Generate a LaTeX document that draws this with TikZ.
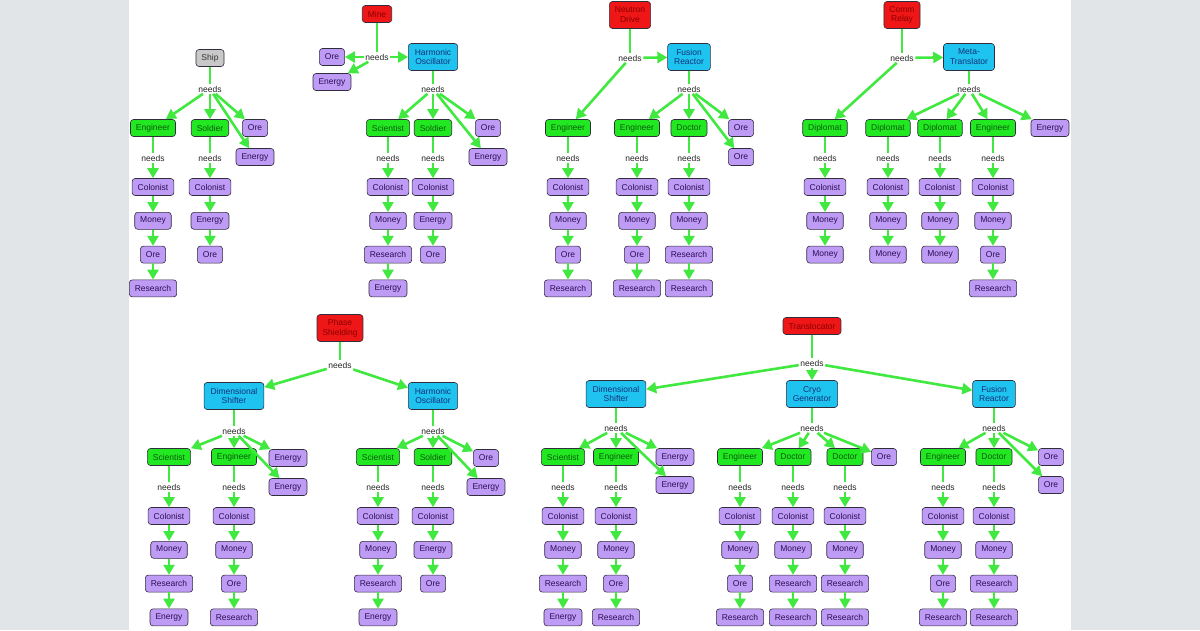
\documentclass[tikz,border=0pt]{standalone}
\usepackage{fontspec}
\setmainfont{Liberation Sans}
\usetikzlibrary{arrows.meta}
\definecolor{margin}{RGB}{225,229,232}
\definecolor{edge}{RGB}{50,45,60}
\definecolor{wire}{RGB}{64,232,64}
\definecolor{top}{RGB}{238,22,22}
\definecolor{toptext}{RGB}{140,0,0}
\definecolor{tool}{RGB}{30,195,240}
\definecolor{tooltext}{RGB}{20,50,120}
\definecolor{crew}{RGB}{34,232,34}
\definecolor{crewtext}{RGB}{10,90,10}
\definecolor{res}{RGB}{190,155,245}
\definecolor{restext}{RGB}{45,15,85}
\definecolor{shipgray}{RGB}{200,200,200}

\begin{document}
\begin{tikzpicture}[
    x=1pt, y=-1pt,
    box/.style={
        draw=edge,
        line width=0.6pt,
        rounded corners=3pt,
        font=\fontsize{8.5}{9.8}\selectfont,
        minimum height=17pt,
        inner xsep=5.5pt,
        inner ysep=2pt,
        align=center
    },
    tall/.style={minimum height=27pt},
    top_style/.style={box, fill=top, text=toptext},
    tool_style/.style={box, tall, fill=tool, text=tooltext, inner xsep=6.5pt},
    crew_style/.style={box, fill=crew, text=crewtext},
    res_style/.style={box, fill=res, text=restext},
    ship_style/.style={box, fill=shipgray, text=black!80},
    lbl_style/.style={font=\fontsize{8.5}{9.8}\selectfont, text=black!85, inner sep=1.5pt},
    link/.style={draw=wire, line width=2.6pt},
    arr/.style={link, -{Triangle[length=10pt, width=11pt]}}
]

\useasboundingbox (0,0) rectangle (1200,630);
\fill[margin] (0,0) rectangle (1200,630);
\fill[white] (129,0) rectangle (1071,630);

% top row
\node[ship_style] (ship) at (210,58) {Ship};
\node[lbl_style] (ship_n) at (210,89) {needs};
\node[res_style] (ship_ore) at (255,128) {Ore};
\node[res_style] (ship_en) at (255,157) {Energy};

\node[top_style] (mine) at (377,14) {Mine};
\node[lbl_style] (mine_n) at (377,57) {needs};
\node[res_style] (mine_ore) at (332,57) {Ore};
\node[res_style] (mine_en) at (332,82) {Energy};
\node[tool_style] (ho1) at (433,57) {Harmonic\\Oscillator};
\node[lbl_style] (ho1_n) at (433,89) {needs};
\node[res_style] (ho1_ore) at (488,128) {Ore};
\node[res_style] (ho1_en) at (488,157) {Energy};

\node[top_style, tall] (nd) at (630,15) {Neutron\\Drive};
\node[lbl_style] (nd_n) at (630,58) {needs};
\node[tool_style] (fr1) at (689,57) {Fusion\\Reactor};
\node[lbl_style] (fr1_n) at (689,89) {needs};
\node[res_style] (fr1_ore) at (741,128) {Ore};
\node[res_style] (fr1_ore2) at (741,157) {Ore};

\node[top_style, tall] (cr) at (902,15) {Comm\\Relay};
\node[lbl_style] (cr_n) at (902,58) {needs};
\node[tool_style] (mt) at (969,57) {Meta-\\Translator};
\node[lbl_style] (mt_n) at (969,89) {needs};
\node[res_style] (mt_en) at (1050,128) {Energy};

% bottom row
\node[top_style, tall] (ps) at (340,328) {Phase\\Shielding};
\node[lbl_style] (ps_n) at (340,365) {needs};
\node[tool_style] (ds1) at (234,396) {Dimensional\\Shifter};
\node[lbl_style] (ds1_n) at (234,431) {needs};
\node[res_style] (ds1_en) at (288,458) {Energy};
\node[res_style] (ds1_en2) at (288,487) {Energy};
\node[tool_style] (ho2) at (433,396) {Harmonic\\Oscillator};
\node[lbl_style] (ho2_n) at (433,431) {needs};
\node[res_style] (ho2_ore) at (486,458) {Ore};
\node[res_style] (ho2_en) at (486,487) {Energy};

\node[top_style] (tl) at (812,326) {Translocator};
\node[lbl_style] (tl_n) at (812,363) {needs};
\node[tool_style] (ds2) at (616,394) {Dimensional\\Shifter};
\node[lbl_style] (ds2_n) at (616,428) {needs};
\node[res_style] (ds2_en) at (675,457) {Energy};
\node[res_style] (ds2_en2) at (675,485) {Energy};
\node[tool_style] (cg) at (812,394) {Cryo\\Generator};
\node[lbl_style] (cg_n) at (812,428) {needs};
\node[res_style] (cg_ore) at (884,457) {Ore};
\node[tool_style] (fr2) at (994,394) {Fusion\\Reactor};
\node[lbl_style] (fr2_n) at (994,428) {needs};
\node[res_style] (fr2_ore) at (1051,457) {Ore};
\node[res_style] (fr2_ore2) at (1051,485) {Ore};

% crew columns: crew node, needs, then the chain
\foreach \col/\x/\y/\who/\items in {
    ship_a/153/128/Engineer/{Colonist,Money,Ore,Research},
    ship_b/210/128/Soldier/{Colonist,Energy,Ore},
    ho1_a/388/128/Scientist/{Colonist,Money,Research,Energy},
    ho1_b/433/128/Soldier/{Colonist,Energy,Ore},
    nd_a/568/128/Engineer/{Colonist,Money,Ore,Research},
    fr1_a/637/128/Engineer/{Colonist,Money,Ore,Research},
    fr1_b/689/128/Doctor/{Colonist,Money,Research,Research},
    cr_a/825/128/Diplomat/{Colonist,Money,Money},
    mt_a/888/128/Diplomat/{Colonist,Money,Money},
    mt_b/940/128/Diplomat/{Colonist,Money,Money},
    mt_c/993/128/Engineer/{Colonist,Money,Ore,Research},
    ds1_a/169/457/Scientist/{Colonist,Money,Research,Energy},
    ds1_b/234/457/Engineer/{Colonist,Money,Ore,Research},
    ho2_a/378/457/Scientist/{Colonist,Money,Research,Energy},
    ho2_b/433/457/Soldier/{Colonist,Energy,Ore},
    ds2_a/563/457/Scientist/{Colonist,Money,Research,Energy},
    ds2_b/616/457/Engineer/{Colonist,Money,Ore,Research},
    cg_a/740/457/Engineer/{Colonist,Money,Ore,Research},
    cg_b/793/457/Doctor/{Colonist,Money,Research,Research},
    cg_c/845/457/Doctor/{Colonist,Money,Research,Research},
    fr2_a/943/457/Engineer/{Colonist,Money,Ore,Research},
    fr2_b/994/457/Doctor/{Colonist,Money,Research,Research}}{
    \node[crew_style] (\col) at (\x,\y) {\who};
    \node[lbl_style] (\col-0) at (\x,\y+30) {needs};
    \draw[link] (\col) -- (\col-0);
    \foreach \res [count=\i] in \items {
        \pgfmathtruncatemacro\j{\i-1}
        \node[res_style] (\col-\i) at (\x,\y+59+33.8*\i-33.8) {\res};
        \draw[arr] (\col-\j) -- (\col-\i);
    }
}

% connectors
\draw[link] (ship) -- (ship_n);
\foreach \t in {ship_a, ship_b, ship_ore, ship_en} \draw[arr] (ship_n) -- (\t);

\draw[link] (mine) -- (mine_n);
\foreach \t in {mine_ore, mine_en, ho1} \draw[arr] (mine_n) -- (\t);
\draw[link] (ho1) -- (ho1_n);
\foreach \t in {ho1_a, ho1_b, ho1_ore, ho1_en} \draw[arr] (ho1_n) -- (\t);

\draw[link] (nd) -- (nd_n);
\foreach \t in {fr1, nd_a} \draw[arr] (nd_n) -- (\t);
\draw[link] (fr1) -- (fr1_n);
\foreach \t in {fr1_a, fr1_b, fr1_ore, fr1_ore2} \draw[arr] (fr1_n) -- (\t);

\draw[link] (cr) -- (cr_n);
\foreach \t in {mt, cr_a} \draw[arr] (cr_n) -- (\t);
\draw[link] (mt) -- (mt_n);
\foreach \t in {mt_a, mt_b, mt_c, mt_en} \draw[arr] (mt_n) -- (\t);

\draw[link] (ps) -- (ps_n);
\foreach \t in {ds1, ho2} \draw[arr] (ps_n) -- (\t);
\draw[link] (ds1) -- (ds1_n);
\foreach \t in {ds1_a, ds1_b, ds1_en, ds1_en2} \draw[arr] (ds1_n) -- (\t);
\draw[link] (ho2) -- (ho2_n);
\foreach \t in {ho2_a, ho2_b, ho2_ore, ho2_en} \draw[arr] (ho2_n) -- (\t);

\draw[link] (tl) -- (tl_n);
\foreach \t in {ds2, cg, fr2} \draw[arr] (tl_n) -- (\t);
\draw[link] (ds2) -- (ds2_n);
\foreach \t in {ds2_a, ds2_b, ds2_en, ds2_en2} \draw[arr] (ds2_n) -- (\t);
\draw[link] (cg) -- (cg_n);
\foreach \t in {cg_a, cg_b, cg_c, cg_ore} \draw[arr] (cg_n) -- (\t);
\draw[link] (fr2) -- (fr2_n);
\foreach \t in {fr2_a, fr2_b, fr2_ore, fr2_ore2} \draw[arr] (fr2_n) -- (\t);

\end{tikzpicture}
\end{document}
